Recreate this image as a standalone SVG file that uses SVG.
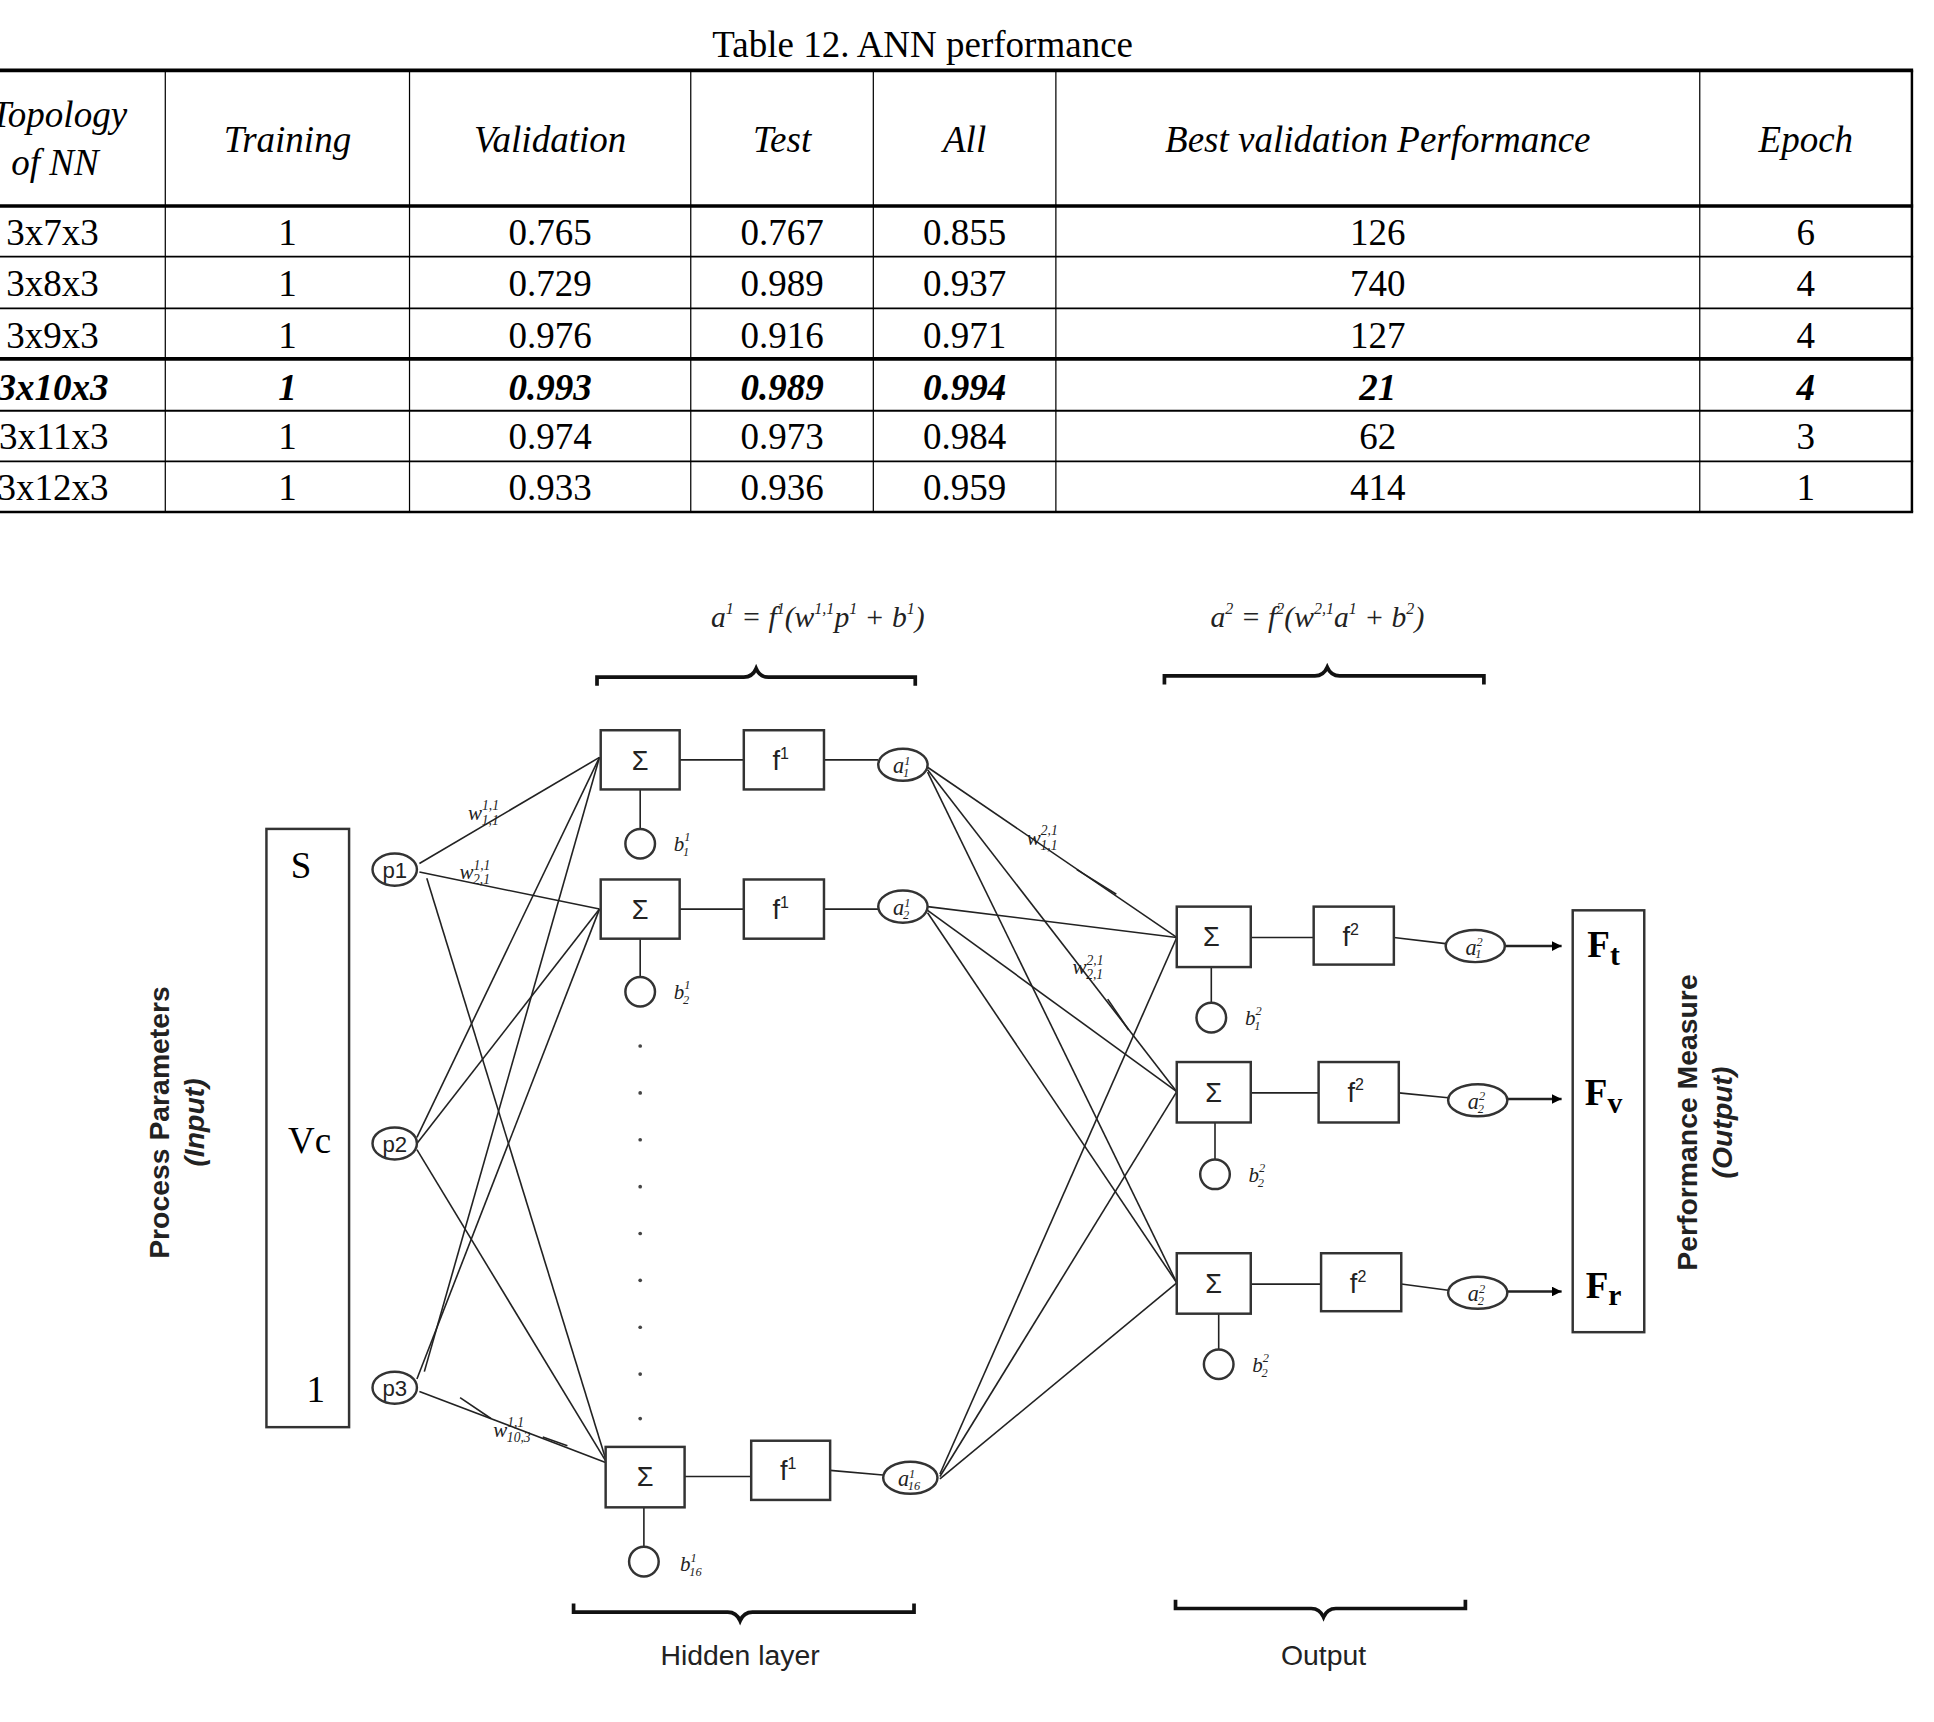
<svg xmlns="http://www.w3.org/2000/svg" width="1934" height="1722" viewBox="0 0 1934 1722">
<style>
.t{font-family:"Liberation Serif",serif;font-size:30px;fill:#000;text-anchor:middle}
.i{font-style:italic}
.b{font-weight:bold}
.ln{stroke:#000;fill:none}
.box{fill:#fff;stroke:#333;stroke-width:2}
.s{font-family:"Liberation Sans",sans-serif;fill:#222;text-anchor:middle}
.m{font-family:"Liberation Serif",serif;font-style:italic;fill:#222;text-anchor:middle}
.w{stroke:#222;stroke-width:1.3;fill:none}
</style>
<defs>
<marker id="ar" viewBox="0 0 10 10" refX="10" refY="5" markerWidth="8" markerHeight="8" orient="auto" markerUnits="userSpaceOnUse"><path d="M0,0L10,5L0,10z" fill="#000"/></marker>
</defs>
<rect width="1934" height="1722" fill="#fff"/>
<g transform="scale(1.2335)">
<g id="table">
<text class="t" x="748" y="46" font-size="34">Table 12. ANN performance</text>
<g class="ln">
<line x1="0" y1="57" x2="1551" y2="57" stroke-width="3"/>
<line x1="0" y1="167" x2="1551" y2="167" stroke-width="3"/>
<line x1="0" y1="208" x2="1551" y2="208" stroke-width="1.5"/>
<line x1="0" y1="250" x2="1551" y2="250" stroke-width="1.5"/>
<line x1="0" y1="291" x2="1551" y2="291" stroke-width="3"/>
<line x1="0" y1="333" x2="1551" y2="333" stroke-width="1.5"/>
<line x1="0" y1="374" x2="1551" y2="374" stroke-width="1.5"/>
<line x1="0" y1="415" x2="1551" y2="415" stroke-width="2"/>
<line x1="134" y1="57" x2="134" y2="415"/>
<line x1="332" y1="57" x2="332" y2="415"/>
<line x1="560" y1="57" x2="560" y2="415"/>
<line x1="708" y1="57" x2="708" y2="415"/>
<line x1="856" y1="57" x2="856" y2="415"/>
<line x1="1378" y1="57" x2="1378" y2="415"/>
<line x1="1550" y1="57" x2="1550" y2="415" stroke-width="2"/>
</g>
<g class="t i">
<text x="103" y="103" text-anchor="end">Topology</text>
<text x="80" y="142" text-anchor="end">of NN</text>
<text x="233" y="123">Training</text>
<text x="446" y="123">Validation</text>
<text x="634" y="123">Test</text>
<text x="782" y="123">All</text>
<text x="1117" y="123">Best validation Performance</text>
<text x="1464" y="123">Epoch</text>
</g>
<g class="t">
<text x="80" y="199" text-anchor="end">3x7x3</text><text x="233" y="199">1</text><text x="446" y="199">0.765</text><text x="634" y="199">0.767</text><text x="782" y="199">0.855</text><text x="1117" y="199">126</text><text x="1464" y="199">6</text>
<text x="80" y="240" text-anchor="end">3x8x3</text><text x="233" y="240">1</text><text x="446" y="240">0.729</text><text x="634" y="240">0.989</text><text x="782" y="240">0.937</text><text x="1117" y="240">740</text><text x="1464" y="240">4</text>
<text x="80" y="282" text-anchor="end">3x9x3</text><text x="233" y="282">1</text><text x="446" y="282">0.976</text><text x="634" y="282">0.916</text><text x="782" y="282">0.971</text><text x="1117" y="282">127</text><text x="1464" y="282">4</text>
<g class="i b"><text x="88" y="324" text-anchor="end">3x10x3</text><text x="233" y="324">1</text><text x="446" y="324">0.993</text><text x="634" y="324">0.989</text><text x="782" y="324">0.994</text><text x="1117" y="324">21</text><text x="1464" y="324">4</text></g>
<text x="88" y="364" text-anchor="end">3x11x3</text><text x="233" y="364">1</text><text x="446" y="364">0.974</text><text x="634" y="364">0.973</text><text x="782" y="364">0.984</text><text x="1117" y="364">62</text><text x="1464" y="364">3</text>
<text x="88" y="405" text-anchor="end">3x12x3</text><text x="233" y="405">1</text><text x="446" y="405">0.933</text><text x="634" y="405">0.936</text><text x="782" y="405">0.959</text><text x="1117" y="405">414</text><text x="1464" y="405">1</text>
</g>
</g>

<g id="connectors" class="w">
<line x1="340" y1="700" x2="486" y2="614"/>
<line x1="340" y1="707" x2="486" y2="737"/>
<line x1="346" y1="712" x2="492" y2="1186"/>
<line x1="338" y1="922" x2="486" y2="614"/>
<line x1="338" y1="927" x2="486" y2="737"/>
<line x1="338" y1="932" x2="492" y2="1186"/>
<line x1="344" y1="1112" x2="486" y2="614"/>
<line x1="338" y1="1118" x2="486" y2="737"/>
<line x1="340" y1="1128" x2="492" y2="1186"/>
<line x1="551" y1="616" x2="603" y2="616"/><line x1="668" y1="616" x2="712" y2="616"/>
<line x1="551" y1="737" x2="603" y2="737"/><line x1="668" y1="737" x2="712" y2="737"/>
<line x1="555" y1="1197" x2="609" y2="1197"/><line x1="673" y1="1192" x2="718" y2="1196"/>
<line x1="519" y1="640" x2="519" y2="672"/>
<line x1="519" y1="761" x2="519" y2="792"/>
<line x1="522" y1="1222" x2="522" y2="1254"/>
<line x1="752" y1="622" x2="954" y2="760"/>
<line x1="752" y1="624" x2="954" y2="885"/>
<line x1="752" y1="626" x2="954" y2="1040"/>
<line x1="752" y1="735" x2="954" y2="760"/>
<line x1="752" y1="738" x2="954" y2="885"/>
<line x1="752" y1="740" x2="954" y2="1040"/>
<line x1="762" y1="1195" x2="954" y2="760"/>
<line x1="762" y1="1197" x2="954" y2="885"/>
<line x1="762" y1="1199" x2="954" y2="1040"/>
<line x1="1014" y1="760" x2="1065" y2="760"/><line x1="1130" y1="760" x2="1172" y2="765"/>
<line x1="1014" y1="886" x2="1069" y2="886"/><line x1="1134" y1="886" x2="1174" y2="890"/>
<line x1="1014" y1="1041" x2="1071" y2="1041"/><line x1="1136" y1="1041" x2="1174" y2="1046"/>
<line x1="982" y1="784" x2="982" y2="813"/>
<line x1="985" y1="910" x2="985" y2="940"/>
<line x1="988" y1="1065" x2="988" y2="1094"/>
<line x1="1220" y1="767" x2="1266" y2="767" stroke-width="2" marker-end="url(#ar)"/>
<line x1="1222" y1="891" x2="1266" y2="891" stroke-width="2" marker-end="url(#ar)"/>
<line x1="1222" y1="1047" x2="1266" y2="1047" stroke-width="2" marker-end="url(#ar)"/>
<line x1="373" y1="1133" x2="398" y2="1150"/>
<line x1="440" y1="1165" x2="460" y2="1172"/>
<line x1="873" y1="705" x2="905" y2="725"/>
<line x1="898" y1="810" x2="915" y2="835"/>
</g>

<g id="braces" stroke="#111" stroke-width="3" fill="none">
<path d="M484,556 L484,549 L603,549 Q610,549 613,542 Q616,549 623,549 L742,549 L742,556"/>
<path d="M944,555 L944,548 L1066,548 Q1073,548 1076,541 Q1079,548 1086,548 L1203,548 L1203,555"/>
<path d="M465,1300 L465,1307 L590,1307 Q597,1307 600,1314 Q603,1307 610,1307 L741,1307 L741,1300"/>
<path d="M953,1297 L953,1304 L1063,1304 Q1070,1304 1073,1311 Q1076,1304 1083,1304 L1188,1304 L1188,1297"/>
</g>
<text class="s" x="600" y="1350" font-size="23">Hidden layer</text>
<text class="s" x="1073" y="1350" font-size="23">Output</text>
<text class="m" x="663" y="508" font-size="24">a<tspan font-size="13" dy="-10">1</tspan><tspan dy="10"> = f</tspan><tspan font-size="13" dy="-10">1</tspan><tspan dy="10">(w</tspan><tspan font-size="13" dy="-10">1,1</tspan><tspan dy="10">p</tspan><tspan font-size="13" dy="-10">1</tspan><tspan dy="10"> + b</tspan><tspan font-size="13" dy="-10">1</tspan><tspan dy="10">)</tspan></text>
<text class="m" x="1068" y="508" font-size="24">a<tspan font-size="13" dy="-10">2</tspan><tspan dy="10"> = f</tspan><tspan font-size="13" dy="-10">2</tspan><tspan dy="10">(w</tspan><tspan font-size="13" dy="-10">2,1</tspan><tspan dy="10">a</tspan><tspan font-size="13" dy="-10">1</tspan><tspan dy="10"> + b</tspan><tspan font-size="13" dy="-10">2</tspan><tspan dy="10">)</tspan></text>

<g id="input">
<rect x="216" y="672" width="67" height="485" class="box"/>
<text class="t" x="244" y="712">S</text>
<text class="t" x="251" y="935">Vc</text>
<text class="t" x="256" y="1137">1</text>
<text class="s b" font-size="23" transform="translate(137,910) rotate(-90)">Process Parameters</text>
<text class="s b i" font-size="23" transform="translate(165,910) rotate(-90)">(Input)</text>
</g>
<g id="p1"><ellipse cx="320" cy="705" rx="18" ry="13" class="box" stroke-width="1.5"/><text class="s" x="320" y="712" font-size="18">p1</text></g>
<g id="p2"><ellipse cx="320" cy="927" rx="18" ry="13" class="box" stroke-width="1.5"/><text class="s" x="320" y="934" font-size="18">p2</text></g>
<g id="p3"><ellipse cx="320" cy="1125" rx="18" ry="13" class="box" stroke-width="1.5"/><text class="s" x="320" y="1132" font-size="18">p3</text></g>

<g id="wlabels" class="m" font-size="17">
<text x="392" y="665">w<tspan font-size="11" dy="-8">1,1</tspan><tspan font-size="11" dx="-14" dy="12">1,1</tspan></text>
<text x="385" y="713">w<tspan font-size="11" dy="-8">1,1</tspan><tspan font-size="11" dx="-14" dy="12">2,1</tspan></text>
<text x="415" y="1165">w<tspan font-size="11" dy="-8">1,1</tspan><tspan font-size="11" dx="-14" dy="12">10,3</tspan></text>
<text x="845" y="685">w<tspan font-size="11" dy="-8">2,1</tspan><tspan font-size="11" dx="-14" dy="12">1,1</tspan></text>
<text x="882" y="790">w<tspan font-size="11" dy="-8">2,1</tspan><tspan font-size="11" dx="-14" dy="12">2,1</tspan></text>
</g>

<g id="h1"><rect x="487" y="592" width="64" height="48" class="box"/><text class="s" x="519" y="624" font-size="22">Σ</text>
<rect x="603" y="592" width="65" height="48" class="box"/><text class="s" x="633" y="624" font-size="22">f<tspan font-size="13" dy="-9">1</tspan></text>
<ellipse cx="732" cy="620" rx="20" ry="13" class="box" stroke-width="1.5"/><text class="m" x="731" y="627" font-size="18">a<tspan font-size="10" dy="-7">1</tspan><tspan font-size="10" dx="-6" dy="10">1</tspan></text>
<circle cx="519" cy="684" r="12" class="box" stroke-width="1.5"/><text class="m" x="553" y="690" font-size="17">b<tspan font-size="10" dy="-8">1</tspan><tspan font-size="10" dx="-6" dy="12">1</tspan></text></g>
<g id="h2"><rect x="487" y="713" width="64" height="48" class="box"/><text class="s" x="519" y="745" font-size="22">Σ</text>
<rect x="603" y="713" width="65" height="48" class="box"/><text class="s" x="633" y="745" font-size="22">f<tspan font-size="13" dy="-9">1</tspan></text>
<ellipse cx="732" cy="735" rx="20" ry="13" class="box" stroke-width="1.5"/><text class="m" x="731" y="742" font-size="18">a<tspan font-size="10" dy="-7">1</tspan><tspan font-size="10" dx="-6" dy="10">2</tspan></text>
<circle cx="519" cy="804" r="12" class="box" stroke-width="1.5"/><text class="m" x="553" y="810" font-size="17">b<tspan font-size="10" dy="-8">1</tspan><tspan font-size="10" dx="-6" dy="12">2</tspan></text></g>
<g id="dots" fill="#444">
<circle cx="519" cy="848" r="1.5"/><circle cx="519" cy="886" r="1.5"/><circle cx="519" cy="924" r="1.5"/><circle cx="519" cy="962" r="1.5"/><circle cx="519" cy="1000" r="1.5"/><circle cx="519" cy="1038" r="1.5"/><circle cx="519" cy="1076" r="1.5"/><circle cx="519" cy="1114" r="1.5"/><circle cx="519" cy="1150" r="1.5"/>
</g>
<g id="h16"><rect x="491" y="1173" width="64" height="49" class="box"/><text class="s" x="523" y="1205" font-size="22">Σ</text>
<rect x="609" y="1168" width="64" height="48" class="box"/><text class="s" x="639" y="1200" font-size="22">f<tspan font-size="13" dy="-9">1</tspan></text>
<ellipse cx="738" cy="1198" rx="22" ry="13" class="box" stroke-width="1.5"/><text class="m" x="737" y="1205" font-size="18">a<tspan font-size="10" dy="-7">1</tspan><tspan font-size="10" dx="-6" dy="10">16</tspan></text>
<circle cx="522" cy="1266" r="12" class="box" stroke-width="1.5"/><text class="m" x="560" y="1274" font-size="17">b<tspan font-size="10" dy="-8">1</tspan><tspan font-size="10" dx="-6" dy="12">16</tspan></text></g>

<g id="o1"><rect x="954" y="735" width="60" height="49" class="box"/><text class="s" x="982" y="767" font-size="22">Σ</text>
<rect x="1065" y="735" width="65" height="47" class="box"/><text class="s" x="1095" y="767" font-size="22">f<tspan font-size="13" dy="-9">2</tspan></text>
<ellipse cx="1196" cy="767" rx="24" ry="13" class="box" stroke-width="1.5"/><text class="m" x="1195" y="774" font-size="18">a<tspan font-size="10" dy="-7">2</tspan><tspan font-size="10" dx="-6" dy="10">1</tspan></text>
<circle cx="982" cy="825" r="12" class="box" stroke-width="1.5"/><text class="m" x="1016" y="831" font-size="17">b<tspan font-size="10" dy="-8">2</tspan><tspan font-size="10" dx="-6" dy="12">1</tspan></text></g>
<g id="o2"><rect x="954" y="861" width="60" height="49" class="box"/><text class="s" x="984" y="893" font-size="22">Σ</text>
<rect x="1069" y="861" width="65" height="49" class="box"/><text class="s" x="1099" y="893" font-size="22">f<tspan font-size="13" dy="-9">2</tspan></text>
<ellipse cx="1198" cy="892" rx="24" ry="13" class="box" stroke-width="1.5"/><text class="m" x="1197" y="899" font-size="18">a<tspan font-size="10" dy="-7">2</tspan><tspan font-size="10" dx="-6" dy="10">2</tspan></text>
<circle cx="985" cy="952" r="12" class="box" stroke-width="1.5"/><text class="m" x="1019" y="958" font-size="17">b<tspan font-size="10" dy="-8">2</tspan><tspan font-size="10" dx="-6" dy="12">2</tspan></text></g>
<g id="o3"><rect x="954" y="1016" width="60" height="49" class="box"/><text class="s" x="984" y="1048" font-size="22">Σ</text>
<rect x="1071" y="1016" width="65" height="47" class="box"/><text class="s" x="1101" y="1048" font-size="22">f<tspan font-size="13" dy="-9">2</tspan></text>
<ellipse cx="1198" cy="1048" rx="24" ry="13" class="box" stroke-width="1.5"/><text class="m" x="1197" y="1055" font-size="18">a<tspan font-size="10" dy="-7">2</tspan><tspan font-size="10" dx="-6" dy="10">2</tspan></text>
<circle cx="988" cy="1106" r="12" class="box" stroke-width="1.5"/><text class="m" x="1022" y="1112" font-size="17">b<tspan font-size="10" dy="-8">2</tspan><tspan font-size="10" dx="-6" dy="12">2</tspan></text></g>

<g id="output">
<rect x="1275" y="738" width="58" height="342" class="box"/>
<text class="t b" x="1300" y="776" font-size="30">F<tspan font-size="24" dy="6">t</tspan></text>
<text class="t b" x="1300" y="896" font-size="30">F<tspan font-size="24" dy="6">v</tspan></text>
<text class="t b" x="1300" y="1052" font-size="30">F<tspan font-size="24" dy="6">r</tspan></text>
<text class="s b" font-size="23" transform="translate(1376,910) rotate(-90)">Performance Measure</text>
<text class="s b i" font-size="23" transform="translate(1404,910) rotate(-90)">(Output)</text>
</g>
</g>
</svg>
